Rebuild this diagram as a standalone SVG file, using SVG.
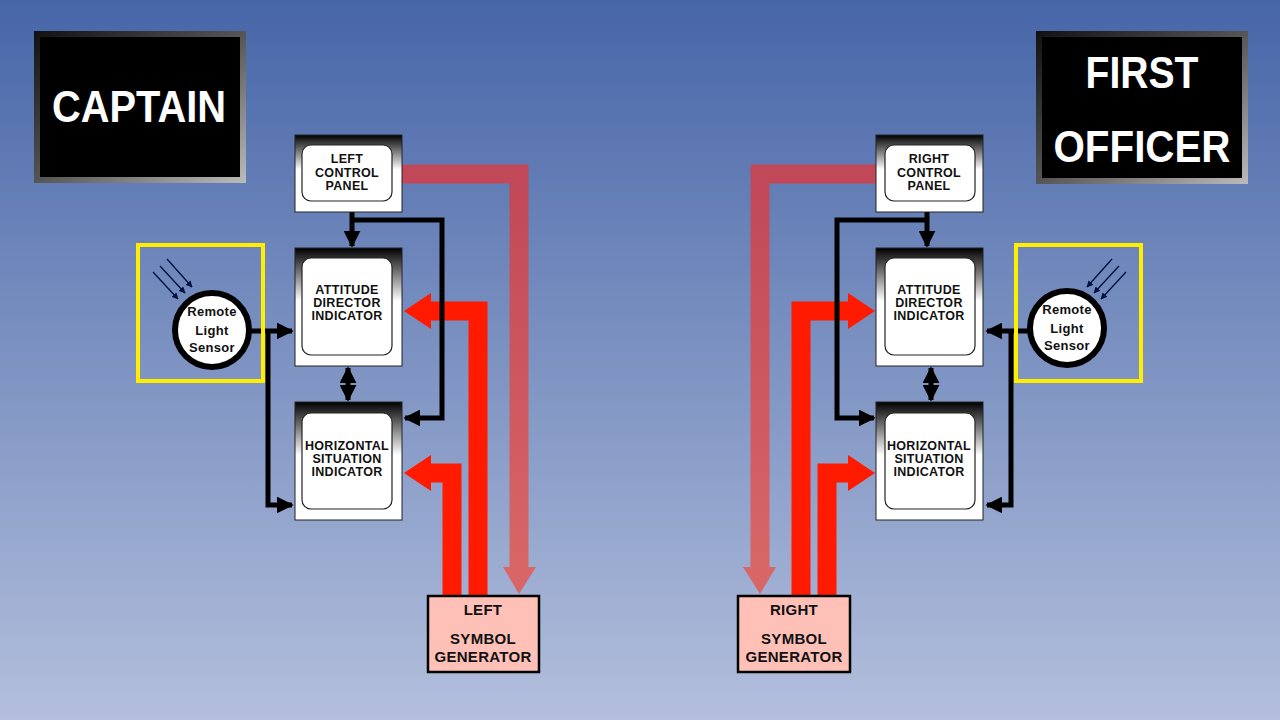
<svg xmlns="http://www.w3.org/2000/svg" xmlns:xlink="http://www.w3.org/1999/xlink" width="1280" height="720" viewBox="0 0 1280 720">
<defs>
<linearGradient id="bg" x1="0" y1="0" x2="0" y2="1"><stop offset="0" stop-color="#4766a8"/><stop offset="1" stop-color="#b3bfdc"/></linearGradient>
<linearGradient id="box" x1="0" y1="0" x2="0" y2="1"><stop offset="0" stop-color="#000"/><stop offset="0.45" stop-color="#fff"/><stop offset="1" stop-color="#fff"/></linearGradient>
<linearGradient id="bev" x1="0" y1="0" x2="1" y2="1"><stop offset="0" stop-color="#111"/><stop offset="0.5" stop-color="#555"/><stop offset="1" stop-color="#bbb"/></linearGradient>
<linearGradient id="pale" x1="0" y1="0" x2="0" y2="1"><stop offset="0" stop-color="#c04858"/><stop offset="1" stop-color="#d86666"/></linearGradient>
<marker id="ah" viewBox="0 0 10 10" refX="9" refY="5" markerWidth="3.4" markerHeight="3.4" orient="auto-start-reverse"><path d="M0,0L10,5L0,10z" fill="#000"/></marker>
<marker id="ra" viewBox="0 0 10 10" refX="9" refY="5" markerWidth="5" markerHeight="5" orient="auto"><path d="M0,0L10,5L0,10z" fill="#001040"/></marker>
<style>
.blk{fill:none;stroke:#000;stroke-width:5}
.lbl{font-family:"Liberation Sans",Arial,sans-serif;font-weight:bold;fill:#111;text-anchor:middle;letter-spacing:0.3px}
.big{font-family:"Liberation Sans",Arial,sans-serif;font-weight:bold;fill:#fff;text-anchor:middle;font-size:44px}
.outer{fill:url(#box);stroke:#222;stroke-width:1}
.inner{fill:#fff;stroke:#222;stroke-width:1.2}
.sg{fill:#ffc0b8;stroke:#000;stroke-width:2.5}
.ybox{fill:none;stroke:#ffee00;stroke-width:4}
.circ{fill:#fff;stroke:#000;stroke-width:6}
.ray{stroke:#001040;stroke-width:1.3}
</style>
</defs>
<rect width="1280" height="720" fill="url(#bg)"/>
<g id="connectors">
<g id="lc">
<path d="M402,174H519V570" fill="none" stroke="url(#pale)" stroke-width="19"/>
<path d="M503,567H536L519,594z" fill="#d86666"/>
<path d="M478,596V311H430" fill="none" stroke="#ff1a00" stroke-width="19"/>
<path d="M431,293L404,311L431,329z" fill="#ff1a00"/>
<path d="M452,596V473H430" fill="none" stroke="#ff1a00" stroke-width="19"/>
<path d="M431,455L404,473L431,491z" fill="#ff1a00"/>
<path class="blk" d="M352,212V246" marker-end="url(#ah)"/>
<path class="blk" d="M352,220H442V418H405" marker-end="url(#ah)"/>
<path class="blk" d="M348,368V400" marker-start="url(#ah)" marker-end="url(#ah)"/>
<path class="blk" d="M250,331H292" marker-end="url(#ah)"/>
<path class="blk" d="M268,331V505H292" marker-end="url(#ah)"/>
<line class="ray" x1="153" y1="272" x2="178" y2="299" marker-end="url(#ra)"/>
<line class="ray" x1="160" y1="266" x2="185" y2="293" marker-end="url(#ra)"/>
<line class="ray" x1="167" y1="259" x2="192" y2="287" marker-end="url(#ra)"/>
</g>
<use xlink:href="#lc" transform="matrix(-1 0 0 1 1279 0)"/>
</g>
<g id="captain"><rect x="34" y="31" width="212" height="152" fill="url(#bev)"/><rect x="40" y="37" width="200" height="140" fill="#000"/><text class="big" x="139" y="122" textLength="174" lengthAdjust="spacingAndGlyphs">CAPTAIN</text></g>
<g id="first-officer"><rect x="1036" y="31" width="212" height="153" fill="url(#bev)"/><rect x="1042" y="37" width="200" height="141" fill="#000"/><text class="big" x="1142" y="88" textLength="113" lengthAdjust="spacingAndGlyphs">FIRST</text><text class="big" x="1142" y="162" textLength="177" lengthAdjust="spacingAndGlyphs">OFFICER</text></g>
<g id="left-control-panel"><rect class="outer" x="295" y="135" width="107" height="77"/><rect class="inner" x="302" y="145" width="90" height="56" rx="9"/><text class="lbl" font-size="12.5" x="347" y="163">LEFT</text><text class="lbl" font-size="12.5" x="347" y="177">CONTROL</text><text class="lbl" font-size="12.5" x="347" y="190">PANEL</text></g>
<g id="left-adi"><rect class="outer" x="295" y="248" width="107" height="118"/><rect class="inner" x="302" y="258" width="90" height="97" rx="9"/><text class="lbl" font-size="12.5" x="347" y="294">ATTITUDE</text><text class="lbl" font-size="12.5" x="347" y="307">DIRECTOR</text><text class="lbl" font-size="12.5" x="347" y="320">INDICATOR</text></g>
<g id="left-hsi"><rect class="outer" x="295" y="402" width="107" height="118"/><rect class="inner" x="302" y="413" width="90" height="96" rx="9"/><text class="lbl" font-size="12.5" x="347" y="450">HORIZONTAL</text><text class="lbl" font-size="12.5" x="347" y="463">SITUATION</text><text class="lbl" font-size="12.5" x="347" y="476">INDICATOR</text></g>
<g id="left-sensor"><rect class="ybox" x="138" y="245" width="125" height="136"/><circle class="circ" cx="212" cy="330" r="37"/><text class="lbl" font-size="13" x="212" y="316">Remote</text><text class="lbl" font-size="13" x="212" y="335">Light</text><text class="lbl" font-size="13" x="212" y="352">Sensor</text></g>
<g id="left-sg"><rect class="sg" x="428" y="596" width="111" height="76"/><text class="lbl" font-size="15" x="483" y="615">LEFT</text><text class="lbl" font-size="15" x="483" y="644">SYMBOL</text><text class="lbl" font-size="15" x="483" y="662">GENERATOR</text></g>
<g id="right-control-panel"><rect class="outer" x="876" y="135" width="107" height="77"/><rect class="inner" x="885" y="145" width="90" height="56" rx="9"/><text class="lbl" font-size="12.5" x="929" y="163">RIGHT</text><text class="lbl" font-size="12.5" x="929" y="177">CONTROL</text><text class="lbl" font-size="12.5" x="929" y="190">PANEL</text></g>
<g id="right-adi"><rect class="outer" x="876" y="248" width="107" height="118"/><rect class="inner" x="885" y="258" width="90" height="97" rx="9"/><text class="lbl" font-size="12.5" x="929" y="294">ATTITUDE</text><text class="lbl" font-size="12.5" x="929" y="307">DIRECTOR</text><text class="lbl" font-size="12.5" x="929" y="320">INDICATOR</text></g>
<g id="right-hsi"><rect class="outer" x="876" y="402" width="107" height="118"/><rect class="inner" x="885" y="413" width="90" height="96" rx="9"/><text class="lbl" font-size="12.5" x="929" y="450">HORIZONTAL</text><text class="lbl" font-size="12.5" x="929" y="463">SITUATION</text><text class="lbl" font-size="12.5" x="929" y="476">INDICATOR</text></g>
<g id="right-sensor"><rect class="ybox" x="1016" y="245" width="125" height="136"/><circle class="circ" cx="1067" cy="328" r="37"/><text class="lbl" font-size="13" x="1067" y="314">Remote</text><text class="lbl" font-size="13" x="1067" y="333">Light</text><text class="lbl" font-size="13" x="1067" y="350">Sensor</text></g>
<g id="right-sg"><rect class="sg" x="738" y="596" width="112" height="76"/><text class="lbl" font-size="15" x="794" y="615">RIGHT</text><text class="lbl" font-size="15" x="794" y="644">SYMBOL</text><text class="lbl" font-size="15" x="794" y="662">GENERATOR</text></g>
</svg>
